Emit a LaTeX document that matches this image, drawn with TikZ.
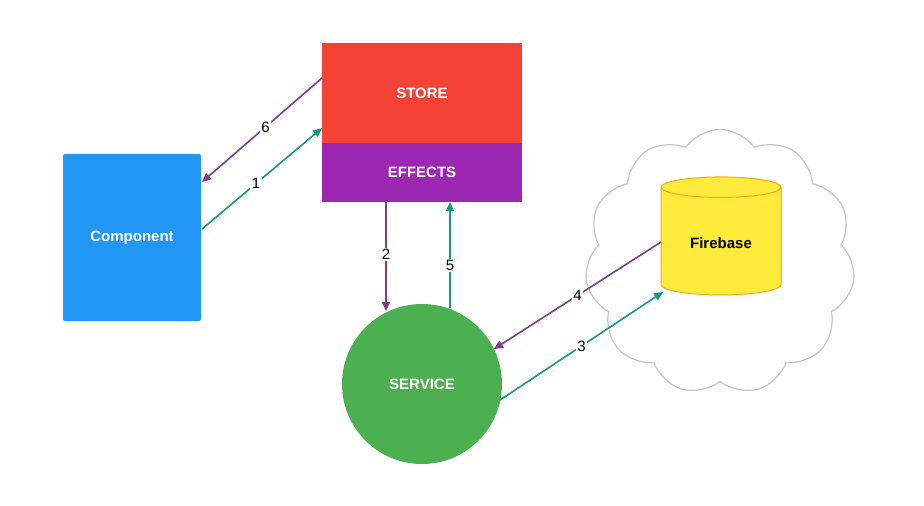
\documentclass[tikz,border=0pt]{standalone}
\usepackage{fontspec}
\setmainfont{Liberation Sans}
\usetikzlibrary{shapes.geometric,shapes.symbols,arrows.meta}
\definecolor{cblue}{HTML}{2196F3}
\definecolor{cred}{HTML}{F44336}
\definecolor{cpurple}{HTML}{9C27B0}
\definecolor{cgreen}{HTML}{4CAF50}
\definecolor{cyellow}{HTML}{FFEB3B}
\definecolor{corange}{HTML}{F5A623}
\definecolor{apurple}{HTML}{7D3C8C}
\definecolor{ateal}{HTML}{169A7E}
\begin{document}
\begin{tikzpicture}[x=1pt,y=-1pt,
    box/.style={draw=none, inner sep=0pt, text=white, font=\fontsize{15}{18}\selectfont\bfseries},
    to/.style={-{Triangle[length=9pt,width=8pt]}, line width=1.6pt},
    pto/.style={to, apurple},
    tto/.style={to, ateal},
    num/.style={fill=white, inner sep=1.5pt, text=black, font=\fontsize{15}{18}\selectfont}]
  \useasboundingbox (0,0) rectangle (924,506);
  % cloud behind the database
  \node[cloud, cloud puffs=11, cloud puff arc=110, aspect=1, draw=black!22, line width=1.3pt,
        minimum width=270pt, minimum height=265pt] (cl) at (720,262) {};
  % nodes
  \node[box, fill=cblue, rounded corners=2pt, minimum width=138pt, minimum height=167pt] (comp) at (132,237.5) {Component};
  \node[box, fill=cred, minimum width=200pt, minimum height=100pt] (store) at (422,93) {STORE};
  \node[box, fill=cpurple, minimum width=200pt, minimum height=59pt] (eff) at (422,172.5) {EFFECTS};
  \node[box, circle, fill=cgreen, minimum size=160pt] (serv) at (422,384) {SERVICE};
  \node[cylinder, shape border rotate=90, aspect=0.3, draw=corange, fill=cyellow, line width=1pt,
        minimum width=120pt, minimum height=118pt, font=\fontsize{15}{18}\selectfont\bfseries] (fb) at (721,243) {Firebase};
  % anchor points
  \coordinate (s6) at (322,78);  \coordinate (e6) at (202,182);
  \coordinate (s1) at (202,229); \coordinate (e1) at (322,128);
  \coordinate (s2) at (386,202); \coordinate (e2) at (386,311);
  \coordinate (s5) at (450,308); \coordinate (e5) at (450,202);
  \coordinate (s4) at (661,242); \coordinate (e4) at (494,349);
  \coordinate (s3) at (500,400); \coordinate (e3) at (663,292);
  % connectors
  \draw[pto] (s6) -- (e6) node[num, pos=0.47] {6};
  \draw[tto] (s1) -- (e1) node[num, pos=0.45] {1};
  \draw[pto] (s2) -- (e2) node[num, pos=0.48] {2};
  \draw[tto] (s5) -- (e5) node[num, pos=0.4] {5};
  \draw[pto] (s4) -- (e4) node[num, pos=0.5] {4};
  \draw[tto] (s3) -- (e3) node[num, pos=0.5] {3};
\end{tikzpicture}
\end{document}
